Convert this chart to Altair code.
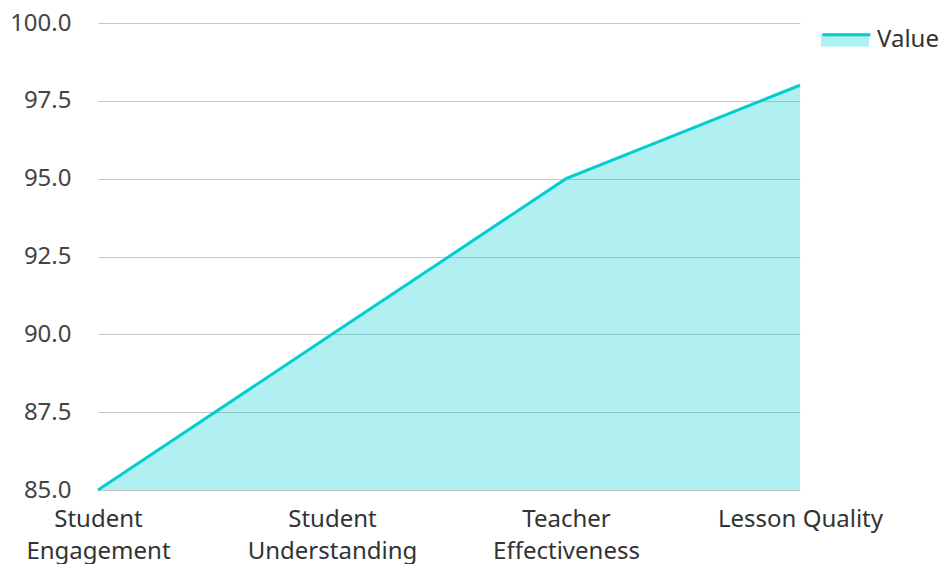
import altair as alt
import pandas as pd

categories = ["Student Engagement", "Student Understanding", "Teacher Effectiveness", "Lesson Quality"]
values = [85.0, 90.0, 95.0, 98.0]
series = ["Value"] * len(categories)
y_ticks = [85, 87.5, 90, 92.5, 95, 97.5, 100]

df = pd.DataFrame({"Category": categories, "Value": values, "Series": series, "LineSeries": series})

FONT = "Noto Sans"
LINE = "#00CED1"
FILL = "rgba(0,206,209,0.31)"
FS = 24

x = alt.X(
    "Category:N",
    sort=categories,
    scale=alt.Scale(type="point", padding=0),
    axis=alt.Axis(
        title=None, labelAngle=0, domain=False, ticks=False, grid=False,
        labelFontSize=FS, labelFont=FONT, labelColor="#333333",
        labelPadding=17, labelLineHeight=32, labelLimit=300,
        labelExpr="datum.label == 'Lesson Quality' ? datum.label : split(datum.label, ' ')",
    ),
)
y = alt.Y(
    "Value:Q",
    scale=alt.Scale(domain=[85, 100], nice=False, zero=False),
    axis=alt.Axis(
        title=None, values=y_ticks, format=".1f",
        domain=False, ticks=False, gridColor="#c8c8c8", gridWidth=1.2,
        labelFontSize=FS, labelFont=FONT, labelColor="#444444", labelPadding=27,
    ),
)

area = alt.Chart(df).mark_area().encode(
    x=x, y=y, y2=alt.datum(85),
    fill=alt.Fill(
        "Series:N",
        scale=alt.Scale(range=[FILL]),
        legend=alt.Legend(
            title=None, orient="none", legendX=723, legendY=-7, padding=0,
            symbolType="M-1,-0.28H1V0.28H-1Z", symbolSize=2304, symbolStrokeWidth=0,
            labelFontSize=FS, labelFont=FONT, labelColor="#333333", labelOffset=8,
        ),
    ),
)
line = alt.Chart(df).mark_line(strokeWidth=3).encode(
    x=x, y=y,
    stroke=alt.Stroke(
        "LineSeries:N",
        scale=alt.Scale(range=[LINE]),
        legend=alt.Legend(
            title=None, orient="none", legendX=723, legendY=-7, padding=0,
            symbolType="M-1,-0.28H1", symbolSize=2304, symbolStrokeWidth=3,
            labelFontSize=FS, labelFont=FONT, labelExpr="''", labelOffset=8,
        ),
    ),
)

chart = (area + line).resolve_legend(fill="independent", stroke="independent").properties(
    width=702, height=467,
    autosize=alt.AutoSizeParams(type="none"),
    padding={"left": 90, "top": 15, "right": 141, "bottom": 74},
    background="white",
).configure_view(stroke=None)

chart.save("out.html", embed_options={"renderer": "svg", "actions": False})
